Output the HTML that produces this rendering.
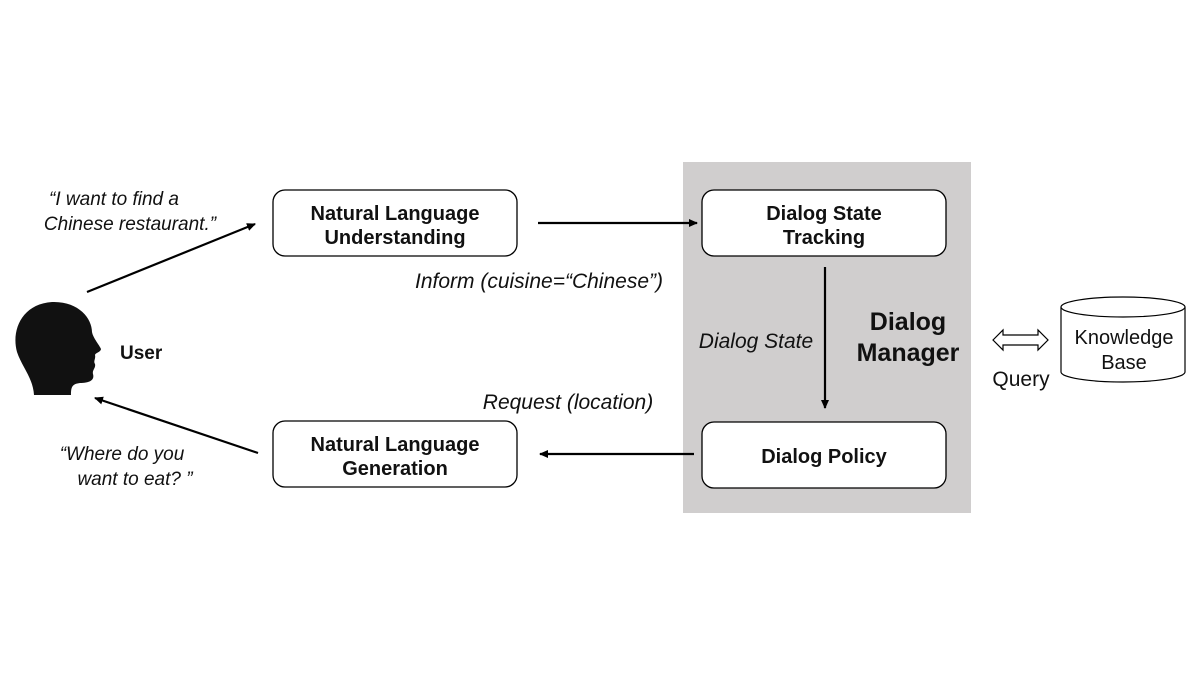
<!DOCTYPE html>
<html><head><style>
body{margin:0;background:#fff}
svg{display:block}
text{font-family:"Liberation Sans",Arial,sans-serif;fill:#111}
.b{font-weight:bold;font-size:20px}
.i{font-style:italic;font-size:21px}
.q{font-style:italic;font-size:19px}
</style></head><body>
<svg width="1200" height="675" viewBox="0 0 1200 675">
<defs>
<marker id="a" markerWidth="10" markerHeight="10" refX="8" refY="5" orient="auto" markerUnits="userSpaceOnUse">
<path d="M0,1 L9,5 L0,9 Z" fill="#000"/></marker>
</defs>
<rect x="683" y="162" width="288" height="351" fill="#d0cece"/>
<g fill="#fff" stroke="#000" stroke-width="1.3">
<rect x="273" y="190" width="244" height="66" rx="12"/>
<rect x="273" y="421" width="244" height="66" rx="12"/>
<rect x="702" y="190" width="244" height="66" rx="12"/>
<rect x="702" y="422" width="244" height="66" rx="12"/>
</g>
<text class="b" x="395" y="220" text-anchor="middle">Natural Language</text>
<text class="b" x="395" y="244" text-anchor="middle">Understanding</text>
<text class="b" x="395" y="451" text-anchor="middle">Natural Language</text>
<text class="b" x="395" y="475" text-anchor="middle">Generation</text>
<text class="b" x="824" y="220" text-anchor="middle">Dialog State</text>
<text class="b" x="824" y="244" text-anchor="middle">Tracking</text>
<text class="b" x="824" y="463" text-anchor="middle">Dialog Policy</text>
<text x="908" y="330" text-anchor="middle" font-weight="bold" font-size="25">Dialog</text>
<text x="908" y="361" text-anchor="middle" font-weight="bold" font-size="25">Manager</text>
<g stroke="#000" stroke-width="2.2">
<line x1="538" y1="223" x2="697" y2="223" marker-end="url(#a)"/>
<line x1="825" y1="267" x2="825" y2="408" marker-end="url(#a)"/>
<line x1="694" y1="454" x2="540" y2="454" marker-end="url(#a)"/>
<line x1="87" y1="292" x2="255" y2="224" marker-end="url(#a)"/>
<line x1="258" y1="453" x2="95" y2="398" marker-end="url(#a)"/>
</g>
<text class="i" x="539" y="288" text-anchor="middle">Inform (cuisine=“Chinese”)</text>
<text class="i" x="756" y="348" text-anchor="middle">Dialog State</text>
<text class="i" x="568" y="409" text-anchor="middle">Request (location)</text>
<text class="q" x="114" y="205" text-anchor="middle">“I want to find a</text>
<text class="q" x="130" y="230" text-anchor="middle">Chinese restaurant.”</text>
<text class="q" x="122" y="460" text-anchor="middle">“Where do you</text>
<text class="q" x="135" y="485" text-anchor="middle">want to eat? ”</text>
<text x="120" y="359" font-weight="bold" font-size="19">User</text>
<path d="M34,395 C33,378 22,367 17,352 C11,330 22,304 52,302 C78,301 92,318 92,332 C93,338 100,346 101,349 C101,352 95,353 95,355 C96,359 93,361 95,364 C96,368 92,370 93,374 C95,381 88,383 80,383 C72,384 71,387 71,395 Z" fill="#111"/>
<path d="M993,340 L1003,330 L1003,335 L1038,335 L1038,330 L1048,340 L1038,350 L1038,345 L1003,345 L1003,350 Z" fill="#fff" stroke="#000" stroke-width="1.2"/>
<text x="1021" y="386" text-anchor="middle" font-size="21">Query</text>
<path d="M1061,307 L1061,372 A62,10 0 0 0 1185,372 L1185,307" fill="#fff" stroke="#000" stroke-width="1.2"/>
<ellipse cx="1123" cy="307" rx="62" ry="10" fill="#fff" stroke="#000" stroke-width="1.2"/>
<text x="1124" y="344" text-anchor="middle" font-size="20">Knowledge</text>
<text x="1124" y="369" text-anchor="middle" font-size="20">Base</text>
</svg>
</body></html>
